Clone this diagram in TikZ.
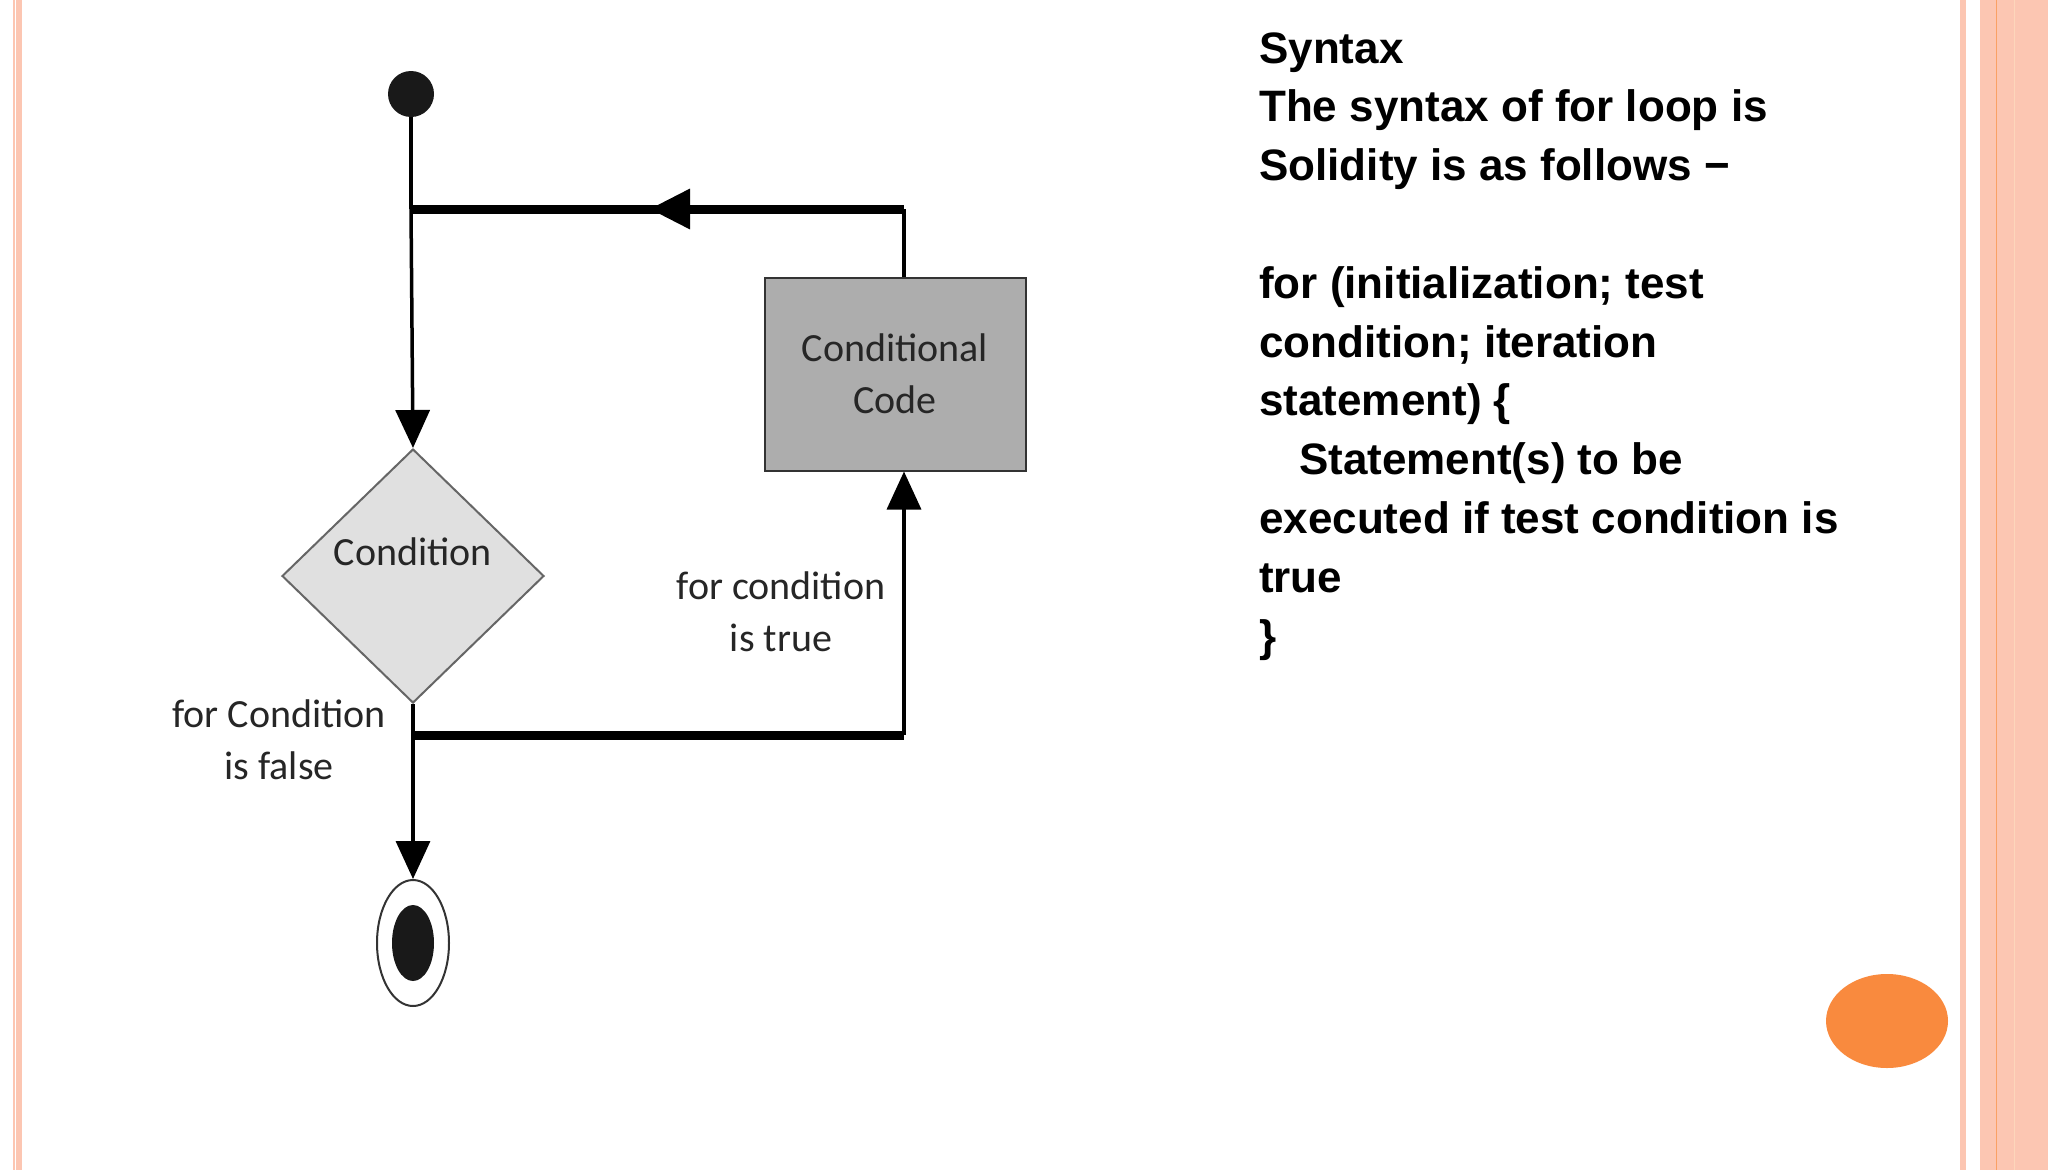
\documentclass[tikz,border=0pt]{standalone}
\usepackage{fontspec}
\setmainfont{Liberation Sans}
\newfontfamily\diag{Carlito}
\usetikzlibrary{shapes.geometric,arrows.meta}
\definecolor{peach}{HTML}{FCC6B2}
\definecolor{orng}{HTML}{F98A3E}
\begin{document}
\begin{tikzpicture}[x=1pt,y=-1pt,
  thick line/.style={line width=9pt},
  thin line/.style={line width=3.5pt},
  tip/.style={-{Triangle[length=38pt,width=34pt]}},
  lbl/.style={font=\diag\fontsize{40}{52}\selectfont,align=center,text=black!85},
  code/.style={font=\bfseries\fontsize{44}{50}\selectfont,anchor=base west,inner sep=0pt}]
\useasboundingbox (0,0) rectangle (2048,1170);
\fill[white] (0,0) rectangle (2048,1170);
% border stripes
\fill[peach] (13,0) rectangle (14.5,1170);
\fill[peach] (16,0) rectangle (22,1170);
\fill[peach] (1960,0) rectangle (1966,1170);
\fill[peach] (1980,0) rectangle (2048,1170);
\draw[orng!80,line width=1pt] (1996,0) -- (1996,1170);
\draw[orng!35,line width=1pt] (2014,0) -- (2014,1170);
% diagram
\node[circle,fill=black!90,minimum size=46pt,inner sep=0pt] (start) at (411,94) {};
\coordinate (j1) at (411,209);
\coordinate (j2) at (904,209);
\node[draw=black!80,line width=2pt,fill=black!32,minimum width=261pt,minimum height=193pt,lbl] (box) at (895,374) {Conditional\\Code};
\node[diamond,draw=black!60,line width=2pt,fill=black!12,minimum width=262pt,minimum height=254pt,inner sep=0pt,aspect=1.03,lbl] (cond) at (413,576) {};
\node[lbl] (condt) at (413,552) {Condition};
\coordinate (b1) at (413,735);
\coordinate (b2) at (904,735);
\node[ellipse,draw=black!80,line width=2pt,fill=white,minimum width=72pt,minimum height=126pt] (endo) at (413,943) {};
\node[ellipse,fill=black!90,minimum width=42pt,minimum height=76pt] (endi) at (endo) {};
\draw[thin line] (start) -- (j1);
\draw[thin line,tip] (j1) -- (cond.north);
\draw[thick line] (j1) -- (j2);
\draw[thin line] (j2) -- (box.north -| j2);
\draw[thin line,-{Triangle[length=40pt,width=40pt]}] (j2) -- (650,209);
\draw[thin line] (cond.south) -- (b1);
\draw[thick line] (b1) -- (b2);
\draw[thin line,tip] (b2) -- (box.south -| b2);
\draw[thin line,tip] (b1) -- (endo.north);
\node[lbl] (ltrue) at (781,612) {for condition\\is true};
\node[lbl] (lfalse) at (279,740) {for Condition\\is false};
% text
\foreach \t [count=\i from 0] in {Syntax,The syntax of for loop is,Solidity is as follows −,,for (initialization; test,condition; iteration,{statement) \{},\hspace{40pt}Statement(s) to be,executed if test condition is,true,\}}
  \node[code] (t\i) at (1259,63+58.8*\i) {\t};
\fill[orng] (1887,1021) ellipse (61 and 47);
\end{tikzpicture}
\end{document}
